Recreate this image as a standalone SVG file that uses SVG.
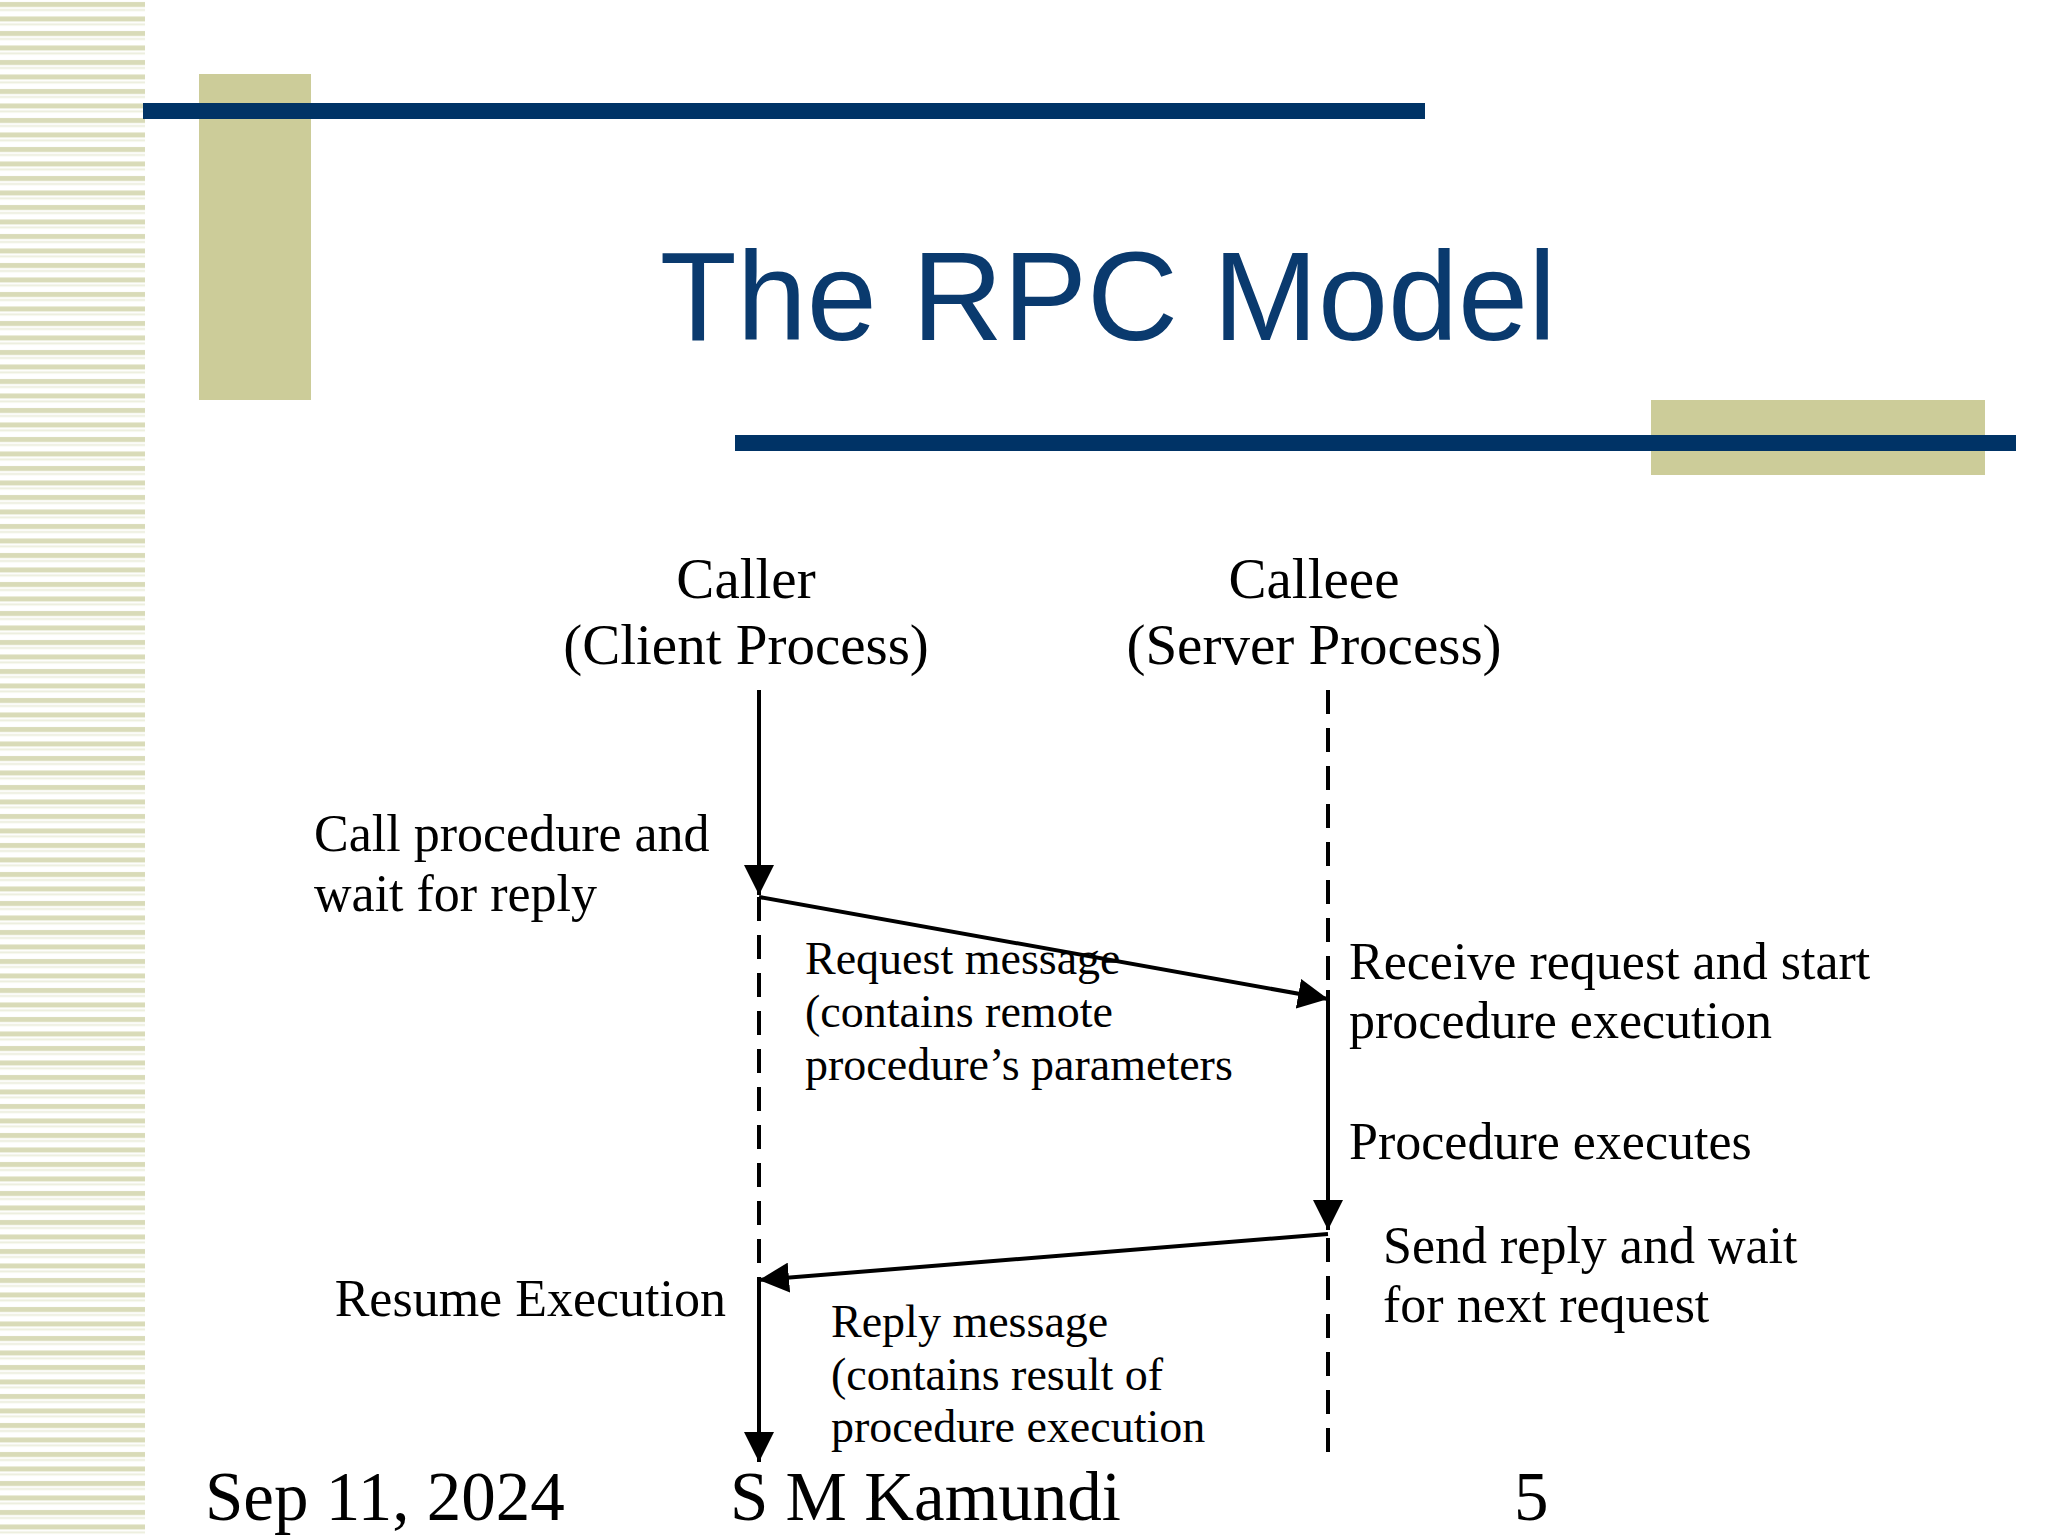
<svg xmlns="http://www.w3.org/2000/svg" width="2048" height="1536" viewBox="0 0 2048 1536">
<defs>
<pattern id="stripes" x="0" y="0" width="145" height="14.5" patternUnits="userSpaceOnUse">
<rect x="0" y="2" width="145" height="5" fill="#d9dbb8"/>
<rect x="0" y="9" width="145" height="2" fill="#eceedd"/>
</pattern>
<marker id="ah" viewBox="0 0 30 30" refX="30" refY="15" markerWidth="30" markerHeight="30" markerUnits="userSpaceOnUse" orient="auto">
<path d="M0,0 L30,15 L0,30 z" fill="#000"/>
</marker>
</defs>
<style>
.t{font-family:"Liberation Serif","Times New Roman",serif;fill:#000}
.h{font-size:57px}
.m{font-size:52px}
.s{font-size:46px}
.f{font-size:69px}
.sol{stroke:#000;stroke-width:4;fill:none}
.dash{stroke:#000;stroke-width:4;fill:none;stroke-dasharray:24 14}
</style>
<rect width="2048" height="1536" fill="#fff"/>
<g id="background">
<rect x="0" y="0" width="145" height="1536" fill="url(#stripes)"/>
<rect x="199" y="74" width="112" height="326" fill="#cccc99"/>
<rect x="143" y="103" width="1282" height="16" fill="#003366"/>
<rect x="1651" y="400" width="334" height="75" fill="#cccc99"/>
<rect x="735" y="435" width="1281" height="16" fill="#003366"/>
<text x="1108" y="340" text-anchor="middle" font-family="Liberation Sans, Arial, sans-serif" font-size="126" fill="#0a3a6e">The RPC Model</text>
</g>
<g id="caller">
<text class="t h" x="746" y="598" text-anchor="middle">Caller</text>
<text class="t h" x="746" y="664" text-anchor="middle">(Client Process)</text>
</g>
<g id="callee">
<text class="t h" x="1314" y="598" text-anchor="middle">Calleee</text>
<text class="t h" x="1314" y="664" text-anchor="middle">(Server Process)</text>
</g>
<g id="connectors">
<line class="sol" x1="759" y1="690" x2="759" y2="895" marker-end="url(#ah)"/>
<line class="dash" x1="759" y1="897" x2="759" y2="1280"/>
<line class="sol" x1="759" y1="1280" x2="759" y2="1462" marker-end="url(#ah)"/>
<line class="dash" x1="1328" y1="690" x2="1328" y2="990"/>
<line class="sol" x1="1328" y1="990" x2="1328" y2="1230" marker-end="url(#ah)"/>
<line class="dash" x1="1328" y1="1238" x2="1328" y2="1458"/>
<line class="sol" x1="759" y1="897" x2="1328" y2="999" marker-end="url(#ah)"/>
<line class="sol" x1="1328" y1="1234" x2="759" y2="1280" marker-end="url(#ah)"/>
</g>
<g id="labels">
<text class="t m" x="314" y="851">Call procedure and</text>
<text class="t m" x="314" y="911">wait for reply</text>
<text class="t s" x="805" y="974">Request message</text>
<text class="t s" x="805" y="1027">(contains remote</text>
<text class="t s" x="805" y="1080">procedure’s parameters</text>
<text class="t m" x="1349" y="979">Receive request and start</text>
<text class="t m" x="1349" y="1038">procedure execution</text>
<text class="t m" x="1349" y="1159">Procedure executes</text>
<text class="t m" x="1383" y="1263">Send reply and wait</text>
<text class="t m" x="1383" y="1322">for next request</text>
<text class="t m" x="726" y="1316" text-anchor="end">Resume Execution</text>
<text class="t s" x="831" y="1337">Reply message</text>
<text class="t s" x="831" y="1390">(contains result of</text>
<text class="t s" x="831" y="1442">procedure execution</text>
</g>
<g id="footer">
<text class="t f" x="205" y="1520">Sep 11, 2024</text>
<text class="t f" x="730" y="1520">S M Kamundi</text>
<text class="t f" x="1514" y="1520">5</text>
</g>
</svg>
